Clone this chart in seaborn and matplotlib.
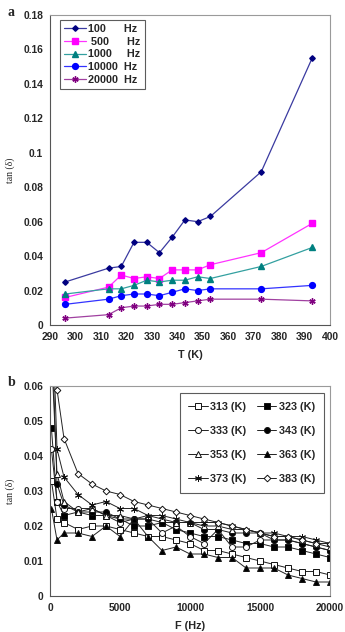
import numpy as np
import pandas as pd
import matplotlib
matplotlib.use("Agg")
import matplotlib.pyplot as plt
import seaborn as sns
from matplotlib.ticker import FuncFormatter

sns.set_style("white")
plt.rcParams['font.family'] = ['Liberation Sans', 'DejaVu Sans']

# ---------------- Panel a data ----------------
temps_a = [296, 313, 318, 323, 328, 333, 338, 343, 348, 353, 373, 393]
tan_100 = [0.025, 0.033, 0.034, 0.048, 0.048, 0.042, 0.051, 0.061, 0.060, 0.063, 0.089, 0.155]
tan_500 = [0.016, 0.022, 0.029, 0.027, 0.028, 0.027, 0.032, 0.032, 0.032, 0.035, 0.042, 0.059]
tan_1000 = [0.018, 0.021, 0.021, 0.023, 0.026, 0.025, 0.026, 0.026, 0.028, 0.027, 0.034, 0.045]
tan_10000 = [0.012, 0.015, 0.017, 0.018, 0.018, 0.017, 0.019, 0.021, 0.020, 0.021, 0.021, 0.023]
tan_20000 = [0.004, 0.006, 0.010, 0.011, 0.011, 0.012, 0.012, 0.013, 0.014, 0.015, 0.015, 0.014]
labels_a = ["100      Hz", " 500      Hz", "1000     Hz", "10000  Hz", "20000  Hz"]

# ---------------- Panel b data ----------------
freqs_b = [100, 500, 1000, 2000, 3000, 4000, 5000, 6000, 7000, 8000, 9000, 10000,
           11000, 12000, 13000, 14000, 15000, 16000, 17000, 18000, 19000, 20000]
t313 = [0.033, 0.022, 0.021, 0.019, 0.020, 0.020, 0.019, 0.018, 0.017, 0.017, 0.016, 0.015,
        0.013, 0.013, 0.012, 0.011, 0.010, 0.009, 0.008, 0.007, 0.007, 0.006]
t323 = [0.048, 0.027, 0.023, 0.024, 0.023, 0.023, 0.022, 0.020, 0.020, 0.021, 0.019, 0.018,
        0.017, 0.017, 0.016, 0.015, 0.015, 0.014, 0.014, 0.013, 0.012, 0.011]
t333 = [0.042, 0.027, 0.025, 0.025, 0.025, 0.023, 0.021, 0.022, 0.022, 0.018, 0.020, 0.017,
        0.015, 0.019, 0.014, 0.014, 0.016, 0.016, 0.016, 0.015, 0.014, 0.013]
t343 = [0.080, 0.032, 0.026, 0.024, 0.024, 0.024, 0.022, 0.022, 0.022, 0.021, 0.021, 0.021,
        0.019, 0.019, 0.018, 0.018, 0.018, 0.016, 0.016, 0.015, 0.014, 0.013]
t353 = [0.070, 0.035, 0.027, 0.024, 0.025, 0.023, 0.023, 0.022, 0.023, 0.022, 0.021, 0.021,
        0.020, 0.020, 0.019, 0.019, 0.018, 0.017, 0.017, 0.016, 0.015, 0.014]
t363 = [0.025, 0.016, 0.018, 0.018, 0.017, 0.020, 0.017, 0.022, 0.017, 0.013, 0.014, 0.012,
        0.012, 0.011, 0.011, 0.008, 0.008, 0.008, 0.006, 0.005, 0.004, 0.004]
t373 = [0.090, 0.042, 0.034, 0.029, 0.026, 0.027, 0.025, 0.025, 0.023, 0.023, 0.022, 0.021,
        0.021, 0.021, 0.020, 0.019, 0.018, 0.018, 0.017, 0.017, 0.016, 0.015]
t383 = [0.100, 0.059, 0.045, 0.035, 0.032, 0.030, 0.029, 0.027, 0.026, 0.025, 0.024, 0.023,
        0.022, 0.021, 0.020, 0.019, 0.018, 0.017, 0.017, 0.016, 0.015, 0.015]
labels_b = ["313 (K)", "323 (K)", "333 (K)", "343 (K)", "353 (K)", "363 (K)", "373 (K)", "383 (K)"]

W, H = 345, 632
fig = plt.figure(figsize=(W / 100, H / 100), dpi=100)

def axrect(l, t, r, b):
    return [l / W, 1 - b / H, (r - l) / W, (b - t) / H]

def gen_fmt(v, pos):
    s = ("%.4f" % v).rstrip('0').rstrip('.')
    return s if s != "-0" else "0"

def style_axes(ax):
    for s in ['top', 'right']:
        ax.spines[s].set_color('#9a9a9a')
        ax.spines[s].set_linewidth(0.8)
    for s in ['left', 'bottom']:
        ax.spines[s].set_color('#555555')
        ax.spines[s].set_linewidth(0.8)
    ax.tick_params(axis='both', direction='out', length=3, width=0.7, color='#555555',
                   labelsize=7.4, pad=2)
    for lab in ax.get_xticklabels() + ax.get_yticklabels():
        lab.set_fontweight('bold')

# ---------------- Panel a ----------------
ax1 = fig.add_axes(axrect(50, 15, 330, 325))
series_a = [tan_100, tan_500, tan_1000, tan_10000, tan_20000]
line_cols = ['#3a3aa0', '#ff33ff', '#33a0a0', '#3333ff', '#a040a0']
mark_cols = ['#000080', '#ff00ff', '#008080', '#0000ff', '#800080']
markers_a = ['D', 's', '^', 'o', (6, 2, 0)]
msizes_a = [2.8, 4.3, 4.3, 4.2, 4.5]
for vals, lc, mc, mk, ms, lab in zip(series_a, line_cols, mark_cols, markers_a, msizes_a, labels_a):
    sns.lineplot(x=temps_a, y=vals, ax=ax1, color=lc, linewidth=0.9, marker=mk,
                 markersize=ms, markerfacecolor=mc, markeredgecolor=mc,
                 markeredgewidth=1.0, label=lab)
ax1.set_xlim(290, 400)
ax1.set_ylim(0, 0.18)
ax1.set_xticks(np.arange(290, 401, 10))
ax1.set_yticks(np.arange(0, 0.181, 0.02))
ax1.yaxis.set_major_formatter(FuncFormatter(gen_fmt))
style_axes(ax1)
ax1.set_xlabel("T (K)", fontsize=7.8, fontweight='bold', labelpad=6)
ax1.set_ylabel("tan (δ)", fontsize=7, family=['Liberation Serif', 'DejaVu Serif'], labelpad=6)
leg1 = ax1.legend(loc='upper left', bbox_to_anchor=(0.035, 0.985), frameon=True, fancybox=False,
                  edgecolor='#333333', prop={'weight': 'bold', 'size': 7.8},
                  handlelength=2.0, handletextpad=0.2, labelspacing=0.25, borderpad=0.4,
                  borderaxespad=0)
leg1.get_frame().set_linewidth(0.8)
fig.text(8 / W, 1 - 12 / H, "a", fontsize=10, fontweight='bold',
         family=['Liberation Serif', 'DejaVu Serif'], va='center', ha='left')

# ---------------- Panel b ----------------
ax2 = fig.add_axes(axrect(50, 386, 330, 596))
series_b = [t313, t323, t333, t343, t353, t363, t373, t383]
markers_b = ['s', 's', 'o', 'o', '^', '^', (6, 2, 0), 'D']
faces_b = ['white', 'black', 'white', 'black', 'white', 'black', 'black', 'white']
msizes_b = [4.5, 4.5, 4.3, 4.3, 4.6, 4.6, 5, 3.4]
for vals, mk, fc, ms, lab in zip(series_b, markers_b, faces_b, msizes_b, labels_b):
    sns.lineplot(x=freqs_b, y=vals, ax=ax2, color='#222222', linewidth=0.7, marker=mk,
                 markersize=ms, markerfacecolor=fc, markeredgecolor='#111111',
                 markeredgewidth=0.7, label=lab)
ax2.set_xlim(0, 20000)
ax2.set_ylim(0, 0.06)
ax2.set_xticks(np.arange(0, 20001, 5000))
ax2.set_yticks(np.arange(0, 0.0601, 0.01))
ax2.yaxis.set_major_formatter(FuncFormatter(gen_fmt))
style_axes(ax2)
ax2.set_xlabel("F (Hz)", fontsize=7.8, fontweight='bold', labelpad=6)
ax2.set_ylabel("tan (δ)", fontsize=7, family=['Liberation Serif', 'DejaVu Serif'], labelpad=6)
h, l = ax2.get_legend_handles_labels()
order = [0, 2, 4, 6, 1, 3, 5, 7]
leg2 = ax2.legend([h[i] for i in order], [l[i] for i in order], ncol=2,
                  loc='upper right', bbox_to_anchor=(0.977, 0.965), frameon=True, fancybox=False,
                  edgecolor='#333333', prop={'weight': 'bold', 'size': 7.8},
                  handlelength=1.8, handletextpad=0.2, labelspacing=1.3, borderpad=0.8,
                  columnspacing=1.0, borderaxespad=0)
leg2.get_frame().set_linewidth(0.8)
fig.text(8 / W, 1 - 383 / H, "b", fontsize=10, fontweight='bold',
         family=['Liberation Serif', 'DejaVu Serif'], va='center', ha='left')

fig.savefig("out.png", dpi=100, facecolor='white')
